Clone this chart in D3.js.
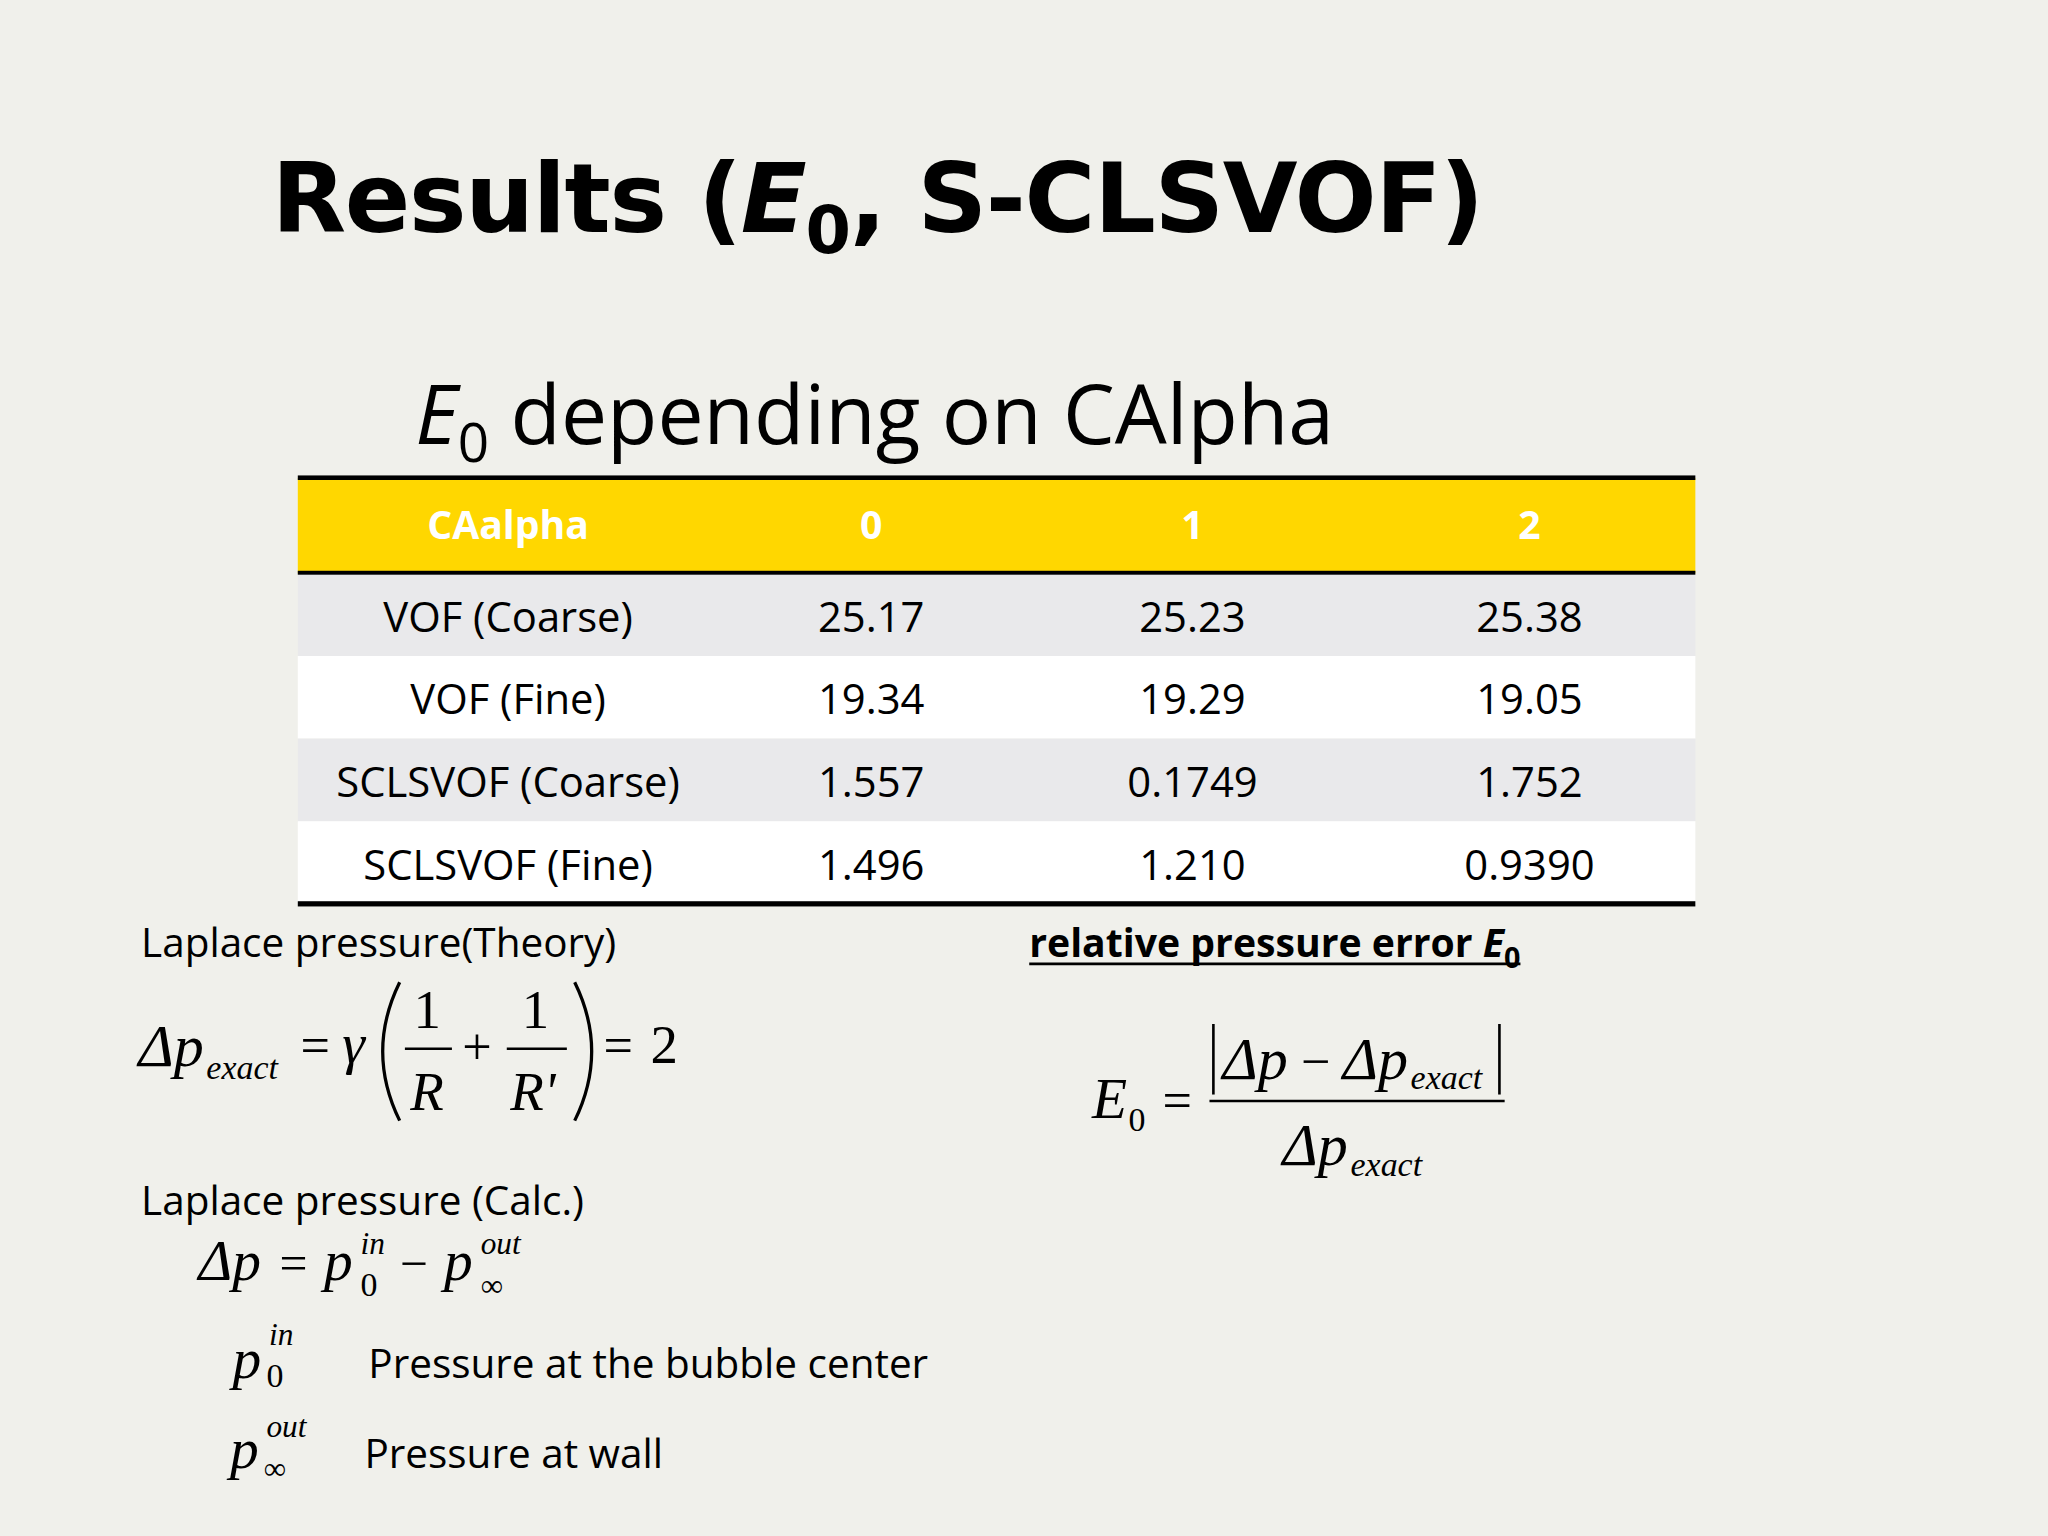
<!DOCTYPE html>
<html><head><meta charset="utf-8">
<script src="https://cdn.jsdelivr.net/npm/d3@7"></script>
<style>html,body{margin:0;padding:0;background:#f0f0eb;}</style>
</head><body>
<script>
const headers = ["CAalpha", "0", "1", "2"];
const rowLabels = ["VOF (Coarse)", "VOF (Fine)", "SCLSVOF (Coarse)", "SCLSVOF (Fine)"];
const values = [
  ["25.17", "25.23", "25.38"],
  ["19.34", "19.29", "19.05"],
  ["1.557", "0.1749", "1.752"],
  ["1.496", "1.210", "0.9390"]
];

const W = 1568, H = 1176;
const svg = d3.select("body").append("svg")
  .attr("width", 2048).attr("height", 1536)
  .attr("viewBox", `0 0 ${W} ${H}`);
svg.append("rect").attr("width", W).attr("height", H).attr("fill", "#f0f0eb");

const sans = "'Open Sans', Lato, sans-serif";
const serif = "Liberation Serif, DejaVu Serif, serif";

// Title
const t = svg.append("text").attr("x", 208).attr("y", 178)
  .attr("font-family", "'DejaVu Sans', Verdana, sans-serif").attr("font-weight", "bold")
  .attr("font-size", 74).attr("letter-spacing", -1).attr("fill", "#000");
t.append("tspan").text("Results (");
t.append("tspan").attr("font-style", "italic").text("E");
t.append("tspan").attr("font-size", 50).attr("dy", 16).text("0");
t.append("tspan").attr("dy", -16).text(", S-CLSVOF)");

// Subtitle
const s = svg.append("text").attr("x", 318).attr("y", 340)
  .attr("font-family", sans).attr("font-size", 63).attr("fill", "#000");
s.append("tspan").attr("font-style", "italic").text("E");
s.append("tspan").attr("font-size", 42).attr("dy", 14).text("0");
s.append("tspan").attr("dy", -14).text(" depending on CAlpha");

// Table
const tx0 = 228, tx1 = 1298;
const colX = d3.scaleOrdinal().domain(headers).range([389, 667, 913, 1171]);
const rowY = d3.scaleBand().domain(rowLabels).range([439, 692]);

svg.append("rect").attr("x", tx0).attr("y", 366).attr("width", tx1 - tx0).attr("height", 73).attr("fill", "#ffd700");
svg.selectAll(".hdr").data(headers).join("text")
  .attr("x", d => colX(d)).attr("y", 413).attr("text-anchor", "middle")
  .attr("font-family", sans).attr("font-weight", "bold").attr("font-size", 30)
  .attr("fill", "#fff").text(d => d);

const rows = svg.selectAll(".row").data(rowLabels).join("g");
rows.append("rect").attr("x", tx0).attr("y", d => rowY(d)).attr("width", tx1 - tx0)
  .attr("height", rowY.bandwidth()).attr("fill", (d, i) => i % 2 === 0 ? "#e9e9eb" : "#ffffff");
rows.append("text").attr("x", colX(headers[0])).attr("y", d => rowY(d) + rowY.bandwidth() / 2 + 13)
  .attr("text-anchor", "middle").attr("font-family", sans).attr("font-size", 32).text(d => d);
rows.each(function (d, i) {
  d3.select(this).selectAll(".v").data(values[i]).join("text")
    .attr("x", (v, j) => colX(headers[j + 1])).attr("y", rowY(d) + rowY.bandwidth() / 2 + 13)
    .attr("text-anchor", "middle").attr("font-family", sans).attr("font-size", 32).text(v => v);
});
svg.append("rect").attr("x", tx0).attr("y", 364).attr("width", tx1 - tx0).attr("height", 3.5).attr("fill", "#000");
svg.append("rect").attr("x", tx0).attr("y", 437).attr("width", tx1 - tx0).attr("height", 3).attr("fill", "#000");
svg.append("rect").attr("x", tx0).attr("y", 690).attr("width", tx1 - tx0).attr("height", 4).attr("fill", "#000");

// Left texts
function label(x, y, txt, size = 31) {
  return svg.append("text").attr("x", x).attr("y", y).attr("font-family", sans).attr("font-size", size).text(txt);
}
label(108, 733, "Laplace pressure(Theory)");
label(108, 930, "Laplace pressure (Calc.)");
label(282, 1055, "Pressure at the bubble center");
label(279, 1124, "Pressure at wall");

function m(x, y, txt, size, italic = true, anchor = "start") {
  return svg.append("text").attr("x", x).attr("y", y).attr("font-family", serif)
    .attr("font-size", size).attr("font-style", italic ? "italic" : "normal")
    .attr("text-anchor", anchor).text(txt);
}
function line(x1, y1, x2, y2, w = 2) {
  svg.append("line").attr("x1", x1).attr("x2", x2).attr("y1", y1).attr("y2", y2).attr("stroke", "#000").attr("stroke-width", w);
}
function paren(x, y0, y1, bulge) {
  const p = d3.path();
  p.moveTo(x, y0);
  p.quadraticCurveTo(x + bulge, (y0 + y1) / 2, x, y1);
  svg.append("path").attr("d", p.toString()).attr("fill", "none").attr("stroke", "#000").attr("stroke-width", 2.5);
}

// Theory formula
m(106, 816, "Δp", 46); m(158, 826, "exact", 26);
m(230, 814, "=", 40, false); m(262, 814, "γ", 44);
paren(306, 752, 858, -26);
m(327, 787, "1", 42, false, "middle"); m(327, 850, "R", 42, true, "middle");
line(310, 803, 346, 803);
m(354, 815, "+", 40, false);
m(410, 787, "1", 42, false, "middle"); m(408, 850, "R'", 42, true, "middle");
line(388, 803, 434, 803);
paren(440, 752, 858, 26);
m(462, 814, "=", 40, false); m(498, 814, "2", 42, false);

// Calc formula
m(152, 980, "Δp", 44); m(214, 980, "=", 38, false); m(248, 980, "p", 44);
m(276, 960, "in", 24); m(276, 992, "0", 26, false);
m(306, 980, "−", 38, false); m(340, 980, "p", 44);
m(368, 960, "out", 24); m(368, 992, "∞", 24, false);

m(178, 1055, "p", 44); m(206, 1030, "in", 24); m(204, 1062, "0", 26, false);
m(176, 1124, "p", 44); m(204, 1100, "out", 24); m(202, 1132, "∞", 24, false);

// Right header
const rp = svg.append("text").attr("x", 788).attr("y", 733).attr("font-family", sans)
  .attr("font-weight", "bold").attr("font-size", 30);
rp.append("tspan").text("relative pressure error ");
rp.append("tspan").attr("font-style", "italic").text("E");
rp.append("tspan").attr("font-size", 22).attr("dy", 8).text("0");
const rpw = rp.node().getComputedTextLength();
line(788, 738, 788 + rpw, 738);

// E0 formula
m(836, 856, "E", 44); m(864, 866, "0", 26, false);
m(890, 856, "=", 40, false);
line(926, 843, 1152, 843);
line(929, 784, 929, 838);
line(1148, 784, 1148, 838);
m(936, 826, "Δp", 46); m(996, 826, "−", 40, false); m(1028, 826, "Δp", 46); m(1080, 834, "exact", 26);
m(982, 892, "Δp", 46); m(1034, 900, "exact", 26);
</script>
</body></html>
